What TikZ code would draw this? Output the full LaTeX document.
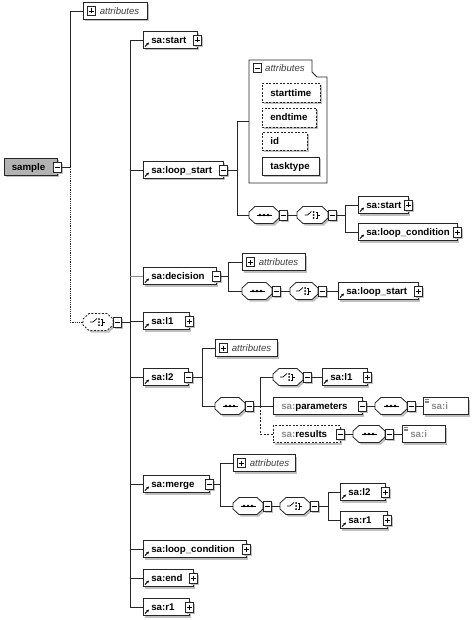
\documentclass[tikz,border=0pt]{standalone}
\usepackage{fontspec}
\setmainfont{Liberation Sans}
\usetikzlibrary{shadows,arrows.meta}
\tikzset{
  ln/.style={line width=0.8pt, draw=black!85},
  shd/.style={drop shadow={shadow xshift=2pt,shadow yshift=-2pt,opacity=1,fill=black!25}},
  elbox/.style={ln, fill=white, shd, rectangle, minimum height=17pt, inner sep=0pt},
  eltext/.style={inner sep=0pt, anchor=base west, font=\fontsize{9.7}{11}\selectfont\bfseries},
  attext/.style={inner sep=0pt, anchor=base west, font=\fontsize{9.6}{11}\selectfont\itshape, text=black!75},
  btn/.style={ln, line width=0.7pt, fill=white, rectangle, minimum width=8pt, minimum height=10pt, inner sep=0pt, shd},
  btnin/.style={ln, line width=0.7pt, fill=white, rectangle, minimum width=8.5pt, minimum height=8.5pt, inner sep=0pt},
  cmpslot/.style={rectangle, minimum height=17pt, inner sep=0pt},
  dsh/.style={dash pattern=on 2pt off 1.5pt},
  link/.style={-{Stealth[length=2.6pt,width=2.8pt]}, line width=0.75pt},
}
\newcommand\xbtn[4][btn]{%
  \node[#1] (#2) at (#3) {};
  \draw[line width=0.6pt] ([xshift=-2.5pt]#2.center) -- ([xshift=2.5pt]#2.center);
  \if+#4\draw[line width=0.6pt] ([yshift=-2.5pt]#2.center) -- ([yshift=2.5pt]#2.center);\fi}
\newcommand\xbox[6][]{%
  \node[elbox,minimum width=#5pt,#1] (#2) at (#3+#5/2,#4) {};
  \node[eltext] (#2-t) at ([shift={(8.5pt,-3.4pt)}]#2.west) {#6};}
\newcommand\xelm[6][]{\xbox[#1]{#2}{#3}{#4}{#5}{#6}%
  \draw[link] ([shift={(2.3pt,2.3pt)}]#2.south west) -- +(4,-4);}
\newcommand\xattr[4]{%
  \node[elbox,minimum width=#4pt] (#1) at (#2+#4/2,#3) {};
  \xbtn[btnin]{#1-b}{[xshift=8.5pt]#1.west}{+}
  \node[attext] (#1-t) at ([shift={(17pt,-3.4pt)}]#1.west) {attributes};}
% compositor outline (octagon) with shadow
\newcommand\xcmp[5][]{%
  \fill[black!25] (#3+2,#4-1) -- (#3+8,#4-6.5) -- (#3+#5-4,#4-6.5) -- (#3+#5+2,#4-1) -- (#3+#5+2,#4+5) -- (#3+#5-4,#4+10.5) -- (#3+8,#4+10.5) -- (#3+2,#4+5) -- cycle;
  \draw[ln, fill=white, #1] (#3,#4-3) -- (#3+6,#4-8.5) -- (#3+#5-6,#4-8.5) -- (#3+#5,#4-3) -- (#3+#5,#4+3) -- (#3+#5-6,#4+8.5) -- (#3+6,#4+8.5) -- (#3,#4+3) -- cycle;
  \node[cmpslot,minimum width=#5pt] (#2) at (#3+#5/2,#4) {};}
\newcommand\xseq[5][]{%
  \xcmp[#1]{#2}{#3}{#4}{#5}
  \begin{scope}[shift={(#2.center)}]
    \draw[line width=0.7pt] (-7.5,0) -- (7.5,0);
    \fill (-4,0) circle (1.4pt) (0,0) circle (1.4pt) (4,0) circle (1.4pt);
  \end{scope}}
\newcommand\xcho[5][]{%
  \xcmp[#1]{#2}{#3}{#4}{#5}
  \begin{scope}[shift={(#2.center)}, line width=0.7pt]
    \draw (-8,0) -- (-5,0) -- (-1,-3.5);
    \fill (1,-3) circle (1pt) (1,0) circle (1pt) (1,3) circle (1pt);
    \draw (3,-3) -- (4.5,-3) -- (4.5,3) -- (3,3) (4.5,0) -- (7,0);
  \end{scope}}
\newcommand\xsimp[4]{%
  \xbox{#1}{#2}{#3}{#4}{\textcolor{black!45}{sa:i}}
  \draw[black!50, line width=0.5pt]
    ([shift={(2pt,-2.5pt)}]#1.north west) -- +(4,0)
    ([shift={(2pt,-4pt)}]#1.north west) -- +(4,0)
    ([shift={(2pt,-5.5pt)}]#1.north west) -- +(4,0);}
\begin{document}
\begin{tikzpicture}[x=1pt,y=-1pt]
\fill[white] (0,0) rectangle (474,620);
\useasboundingbox (0,0) rectangle (474,620);
% bus coordinates
\coordinate (v0) at (70,0);
\coordinate (bus) at (130,0);
\coordinate (v1) at (237,0);
\coordinate (v2) at (345,0);
\coordinate (v3) at (228,0);
\coordinate (v4) at (202,0);
\coordinate (v5) at (260,0);
\coordinate (v6) at (220,0);
\coordinate (v7) at (328,0);

% root
\node[elbox, fill=black!30, minimum width=53pt] (sample) at (4+53/2,167) {};
\node[eltext] (sample-t) at ([shift={(8pt,-3.4pt)}]sample.west) {sample};
\xbtn{sample-b}{sample.east}{-}
\xattr{attr0}{83}{11}{64}
\xcho[dsh]{ch0}{83}{322}{30}
\xbtn{ch0-b}{[xshift=4pt]ch0.east}{-}

% main children
\xelm{start}{143}{40}{54}{sa:start}\xbtn{start-b}{start.east}{+}
\xelm{ls}{143}{170}{80}{sa:loop\_start}\xbtn{ls-b}{ls.east}{-}
\xelm{dec}{143}{276}{73}{sa:decision}\xbtn{dec-b}{dec.east}{-}
\xelm{l1}{143}{321}{46}{sa:l1}\xbtn{l1-b}{l1.east}{+}
\xelm{l2}{143}{377}{45}{sa:l2}\xbtn{l2-b}{l2.east}{-}
\xelm{merge}{143}{484}{66}{sa:merge}\xbtn{merge-b}{merge.east}{-}
\xelm{lc}{143}{549}{103}{sa:loop\_condition}\xbtn{lc-b}{lc.east}{+}
\xelm{end}{143}{578}{50}{sa:end}\xbtn{end-b}{end.east}{+}
\xelm{r1}{143}{607}{46}{sa:r1}\xbtn{r1-b}{r1.east}{+}

% loop_start subtree
\draw[ln, fill=white] (249,60) -- (312,60) -- (312,72) -- (317,77) -- (327,77) -- (327,183) -- (249,183) -- cycle;
\node[minimum width=78pt, minimum height=123pt, inner sep=0pt, anchor=north west] (apanel) at (249,60) {};
\xbtn[btnin]{ap-b}{257.5,68}{-}
\node[attext] (ap-t) at (265,71.4) {attributes};
\xbox[dsh,minimum height=19pt]{a1}{262}{93}{58}{starttime}
\xbox[dsh,minimum height=19pt]{a2}{262}{117.5}{54}{endtime}
\xbox[dsh,minimum height=18pt]{a3}{262}{141.5}{45}{id}
\xbox[minimum height=18pt]{a4}{262}{166}{57}{tasktype}
\xseq{lsseq}{249}{215}{30}\xbtn{lsseq-b}{[xshift=4pt]lsseq.east}{-}
\xcho{lsch}{297}{215}{31}\xbtn{lsch-b}{[xshift=4pt]lsch.east}{-}
\xelm{ls2start}{358}{205}{50}{sa:start}\xbtn{ls2start-b}{ls2start.east}{+}
\xelm{lscond}{358}{232}{99}{sa:loop\_condition}\xbtn{lscond-b}{lscond.east}{+}

% decision subtree
\xattr{dattr}{242}{262}{63}
\xseq{dseq}{242}{291}{30}\xbtn{dseq-b}{[xshift=4pt]dseq.east}{-}
\xcho{dch}{290}{291}{28}\xbtn{dch-b}{[xshift=4pt]dch.east}{-}
\xelm{dls}{338}{291}{80}{sa:loop\_start}\xbtn{dls-b}{dls.east}{+}

% l2 subtree
\xattr{l2attr}{215}{348}{62}
\xseq{l2seq}{215}{406}{30}\xbtn{l2seq-b}{[xshift=4pt]l2seq.east}{-}
\xcho{l2ch}{273}{377}{30}\xbtn{l2ch-b}{[xshift=4pt]l2ch.east}{-}
\xelm{l2l1}{322}{377}{45}{sa:l1}\xbtn{l2l1-b}{l2l1.east}{+}
\xbox{par}{273}{406}{89}{\textcolor{black!45}{sa:}parameters}\xbtn{par-b}{par.east}{-}
\xseq{pseq}{375}{406}{32}\xbtn{pseq-b}{[xshift=4pt]pseq.east}{-}
\xsimp{pi}{423}{406}{45}
\xbox[dsh]{res}{273}{434}{67}{\textcolor{black!45}{sa:}results}\xbtn{res-b}{res.east}{-}
\xseq{rseq}{353}{434}{32}\xbtn{rseq-b}{[xshift=4pt]rseq.east}{-}
\xsimp{ri}{402}{434}{43}

% merge subtree
\xattr{mattr}{233}{463}{62}
\xseq{mseq}{233}{506}{30}\xbtn{mseq-b}{[xshift=4pt]mseq.east}{-}
\xcho{mch}{280}{506}{30}\xbtn{mch-b}{[xshift=4pt]mch.east}{-}
\xelm{ml2}{340}{492}{45}{sa:l2}\xbtn{ml2-b}{ml2.east}{+}
\xelm{mr1}{340}{520}{47}{sa:r1}\xbtn{mr1-b}{mr1.east}{+}

% connectors: root
\draw[ln] (sample-b.east) -- (sample-b.east -| v0);
\draw[ln] (sample-b.east -| v0) |- (attr0.west);
\draw[ln, densely dotted] (sample-b.east -| v0) |- (ch0.west);
\draw[ln] (ch0-b.east) -- (ch0-b.east -| bus);
\draw[ln] (start.west -| bus) -- (r1.west -| bus);
\foreach \n in {start,ls,l1,l2,merge,lc,end,r1} \draw[ln] (\n.west -| bus) -- (\n.west);
\draw[ln, draw=black!45] (dec.west -| bus) -- (dec.west);

% connectors: loop_start
\draw[ln] (ls-b.east) -- (ls-b.east -| v1);
\draw[ln] (apanel.west) -| (v1 |- lsseq.west) -- (lsseq.west);
\draw[ln] (lsseq-b.east) -- (lsch.west);
\draw[ln] (lsch-b.east) -- (lsch-b.east -| v2);
\draw[ln] (ls2start.west) -| (v2 |- lscond.west) -- (lscond.west);

% connectors: decision
\draw[ln] (dec-b.east) -- (dec-b.east -| v3);
\draw[ln] (dattr.west) -| (v3 |- dseq.west) -- (dseq.west);
\draw[ln] (dseq-b.east) -- (dch.west);
\draw[ln] (dch-b.east) -- (dls.west);

% connectors: l2
\draw[ln] (l2-b.east) -- (l2-b.east -| v4);
\draw[ln] (l2attr.west) -| (v4 |- l2seq.west) -- (l2seq.west);
\draw[ln] (l2seq-b.east) -- (par.west);
\draw[ln] (l2ch.west) -| (v5 |- par.west);
\draw[ln, dsh] (v5 |- par.west) |- (res.west);
\draw[ln] (l2ch-b.east) -- (l2l1.west);
\draw[ln] (par-b.east) -- (pseq.west);
\draw[ln] (pseq-b.east) -- (pi.west);
\draw[ln] (res-b.east) -- (rseq.west);
\draw[ln] (rseq-b.east) -- (ri.west);

% connectors: merge
\draw[ln] (merge-b.east) -- (merge-b.east -| v6);
\draw[ln] (mattr.west) -| (v6 |- mseq.west) -- (mseq.west);
\draw[ln] (mseq-b.east) -- (mch.west);
\draw[ln] (mch-b.east) -- (mch-b.east -| v7);
\draw[ln] (ml2.west) -| (v7 |- mr1.west) -- (mr1.west);
\end{tikzpicture}
\end{document}
